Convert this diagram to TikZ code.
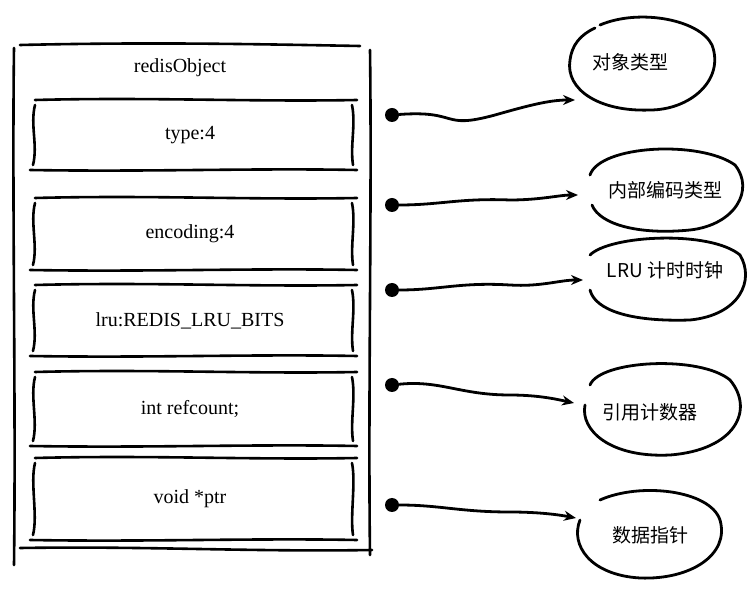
\documentclass[tikz,border=0pt]{standalone}
\usepackage{fontspec}
\setmainfont{Liberation Serif}
\newfontfamily\cjk{Noto Sans CJK SC}
\usetikzlibrary{arrows.meta}
\begin{document}
\begin{tikzpicture}[x=1pt,y=-1pt,
  pen/.style={line width=2.6pt,line cap=round},
  fieldbox/.style={pen},
  lbl/.style={font=\fontsize{20}{24}\selectfont},
  clbl/.style={font=\cjk\fontsize{19}{22}\selectfont},
  blob/.style={pen,line width=2.8pt},
  link/.style={pen,line width=2.8pt,-{Stealth[length=12pt,width=10pt]}},
  dotn/.style={circle,fill=black,inner sep=0pt,minimum size=14pt}]
\useasboundingbox (0,0) rectangle (753,593);
% outer frame
\draw[pen] (20,45) .. controls (150,42) and (250,44) .. (360,46);
\draw[pen] (14,48) .. controls (12,200) and (16,400) .. (14,565);
\draw[pen] (370,50) .. controls (372,200) and (368,400) .. (370,555);
\draw[pen] (20,548) .. controls (150,546) and (250,552) .. (372,550);
\node[lbl] (title) at (180,68) {redisObject};
% fields
\foreach \n/\t/\b/\txt in {f1/100/170/{type:4}, f2/198/270/{encoding:4}, f3/285/356/{lru:REDIS\_LRU\_BITS}, f4/372/446/{int refcount;}, f5/458/540/{void *ptr}}{
  \draw[fieldbox] (35,\t) .. controls (150,\t-3) and (250,\t+2) .. (357,\t);
  \draw[fieldbox] (30,\b) .. controls (150,\b+2) and (250,\b-2) .. (357,\b);
  \draw[fieldbox] (35,\t+5) .. controls (30,\t+25) and (38,\b-25) .. (33,\b-5);
  \draw[fieldbox] (352,\t+5) .. controls (356,\t+25) and (350,\b-25) .. (353,\b-5);
  \node[lbl] (\n) at (190,{(\t+\b)/2}) {\txt};
}
% dots
\node[dotn] (d1) at (392,115) {};
\node[dotn] (d2) at (392,205) {};
\node[dotn] (d3) at (392,290) {};
\node[dotn] (d4) at (392,385) {};
\node[dotn] (d5) at (392,505) {};
% targets
\node[clbl] (t1) at (630,62) {对象类型};
\node[clbl] (t2) at (665,190) {内部编码类型};
\node[clbl] (t3) at (665,270) {LRU 计时时钟};
\node[clbl] (t4) at (650,412) {引用计数器};
\node[clbl] (t5) at (650,535) {数据指针};
% blobs
\draw[blob] (600,25) .. controls (640,8) and (700,20) .. (712,45) .. controls (725,80) and (690,110) .. (650,110) .. controls (600,112) and (565,90) .. (570,60) .. controls (572,45) and (580,35) .. (595,28);
\draw[blob] (590,175) .. controls (600,145) and (700,140) .. (735,165) .. controls (755,190) and (735,225) .. (690,230) .. controls (640,235) and (600,225) .. (592,205);
\draw[blob] (590,255) .. controls (610,235) and (710,230) .. (740,255) .. controls (755,280) and (740,315) .. (690,320) .. controls (630,322) and (595,310) .. (590,290);
\draw[blob] (590,385) .. controls (600,360) and (700,355) .. (730,380) .. controls (755,410) and (735,450) .. (670,455) .. controls (610,458) and (580,430) .. (585,405);
\draw[blob] (600,500) .. controls (640,482) and (710,490) .. (720,520) .. controls (730,555) and (690,580) .. (640,578) .. controls (590,575) and (570,545) .. (580,520);
% links
\draw[link] (d1) .. controls (460,110) and (440,130) .. (495,115) .. controls (530,105) and (550,100) .. (575,100);
\draw[link] (d2) .. controls (440,205) and (460,198) .. (510,200) .. controls (540,200) and (560,195) .. (578,195);
\draw[link] (d3) .. controls (440,290) and (460,282) .. (510,285) .. controls (540,287) and (560,280) .. (583,280);
\draw[link] (d4) .. controls (440,380) and (460,395) .. (510,395) .. controls (540,395) and (560,400) .. (574,403);
\draw[link] (d5) .. controls (440,505) and (460,512) .. (510,512) .. controls (540,512) and (560,515) .. (576,518);
\end{tikzpicture}
\end{document}
